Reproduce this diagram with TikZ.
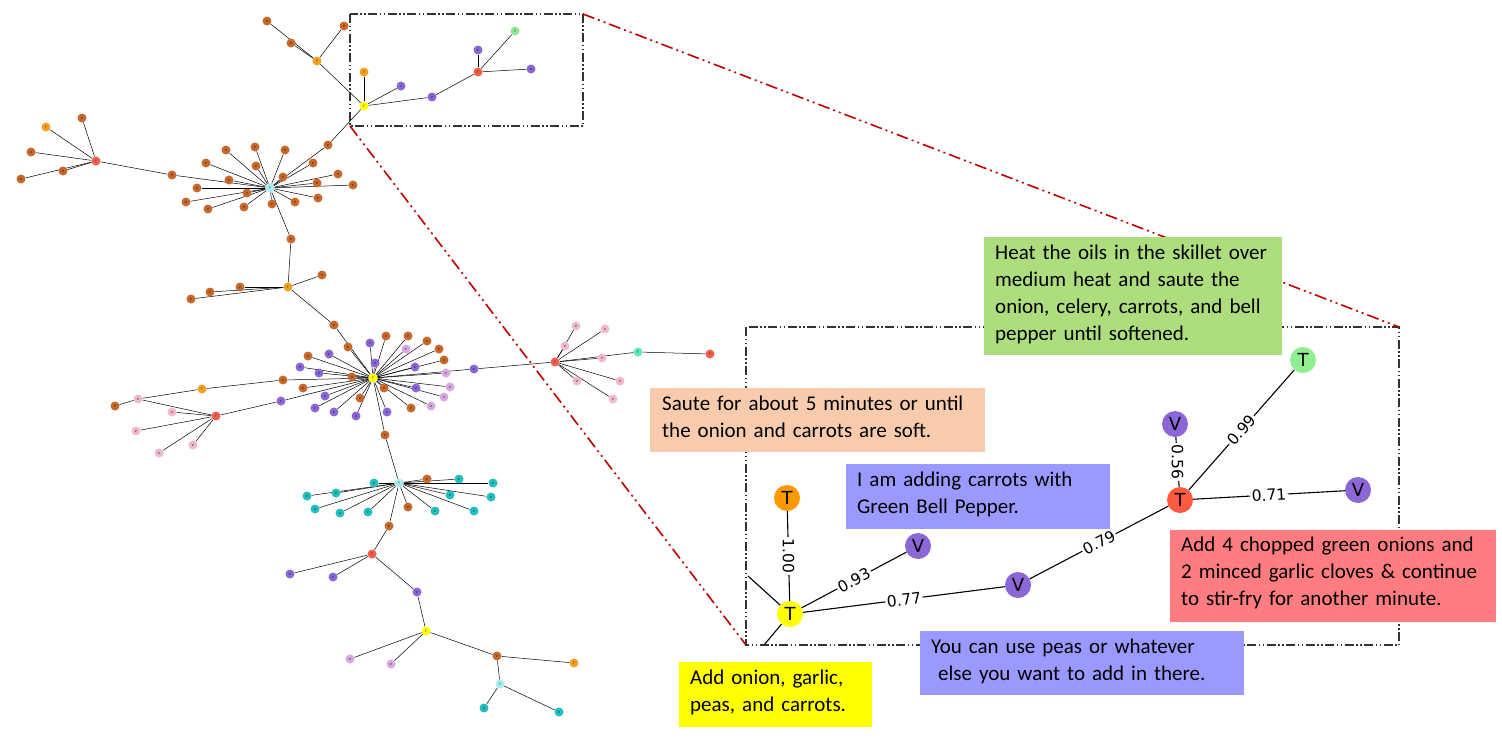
\documentclass[tikz,border=0pt]{standalone}
\usepackage{fontspec}
\setmainfont{Carlito}
\newfontfamily\dvs{DejaVu Sans}
\usetikzlibrary{backgrounds}
\definecolor{cOV}{HTML}{C8682A}
\definecolor{cPV}{HTML}{8B66D6}
\definecolor{cKV}{HTML}{F2B8D0}
\definecolor{cLK}{HTML}{D8A8E0}
\definecolor{cCY}{HTML}{20C0C0}
\definecolor{cLC}{HTML}{A8ECEC}
\definecolor{cYT}{HTML}{FFFF00}
\definecolor{cOT}{HTML}{F5A020}
\definecolor{cRT}{HTML}{F0604A}
\definecolor{cGT}{HTML}{90E890}
\definecolor{cTG}{HTML}{60E8C0}
\definecolor{bGreen}{HTML}{AEDD7E}
\definecolor{bPeach}{HTML}{F8CBAD}
\definecolor{bBlue}{HTML}{9999FF}
\definecolor{bRed}{HTML}{FF7C80}
\definecolor{dRed}{HTML}{C00000}
\definecolor{bPur}{HTML}{8B66D6}
\definecolor{bOra}{HTML}{FF9900}
\definecolor{bRT}{HTML}{FF5A40}
\definecolor{bGT}{HTML}{90EE90}
\tikzset{
 sn/.style={circle,inner sep=0pt,minimum size=9pt,font=\dvs\fontsize{3}{3}\selectfont},
 bn/.style={circle,inner sep=0pt,minimum size=26pt,font=\dvs\fontsize{18}{18}\selectfont},
 tbox/.style={align=left,anchor=north west,inner sep=0pt,text width=#1,font=\fontsize{21}{27}\selectfont},
 boxln/.style={black!80,line width=1.2pt,dash pattern=on 9pt off 2.5pt on 1.5pt off 2.5pt on 1.5pt off 2.5pt},
 redln/.style={dRed,line width=1.6pt,dash pattern=on 12pt off 4pt on 2pt off 4pt on 2pt off 4pt},
 el/.style={midway,fill=white,inner sep=1.5pt,font=\dvs\fontsize{15.5}{15.5}\selectfont},
 edge/.style={black,line width=0.5pt},
 bedge/.style={black,line width=1.1pt}
}
\begin{document}
\begin{tikzpicture}[x=1pt,y=-1pt]
\useasboundingbox (0,0) rectangle (1502,742);
% ---------- small graph nodes ----------
\foreach \n/\x/\y/\c/\l in {
 tA/317/61/cOT/T, a1/267/21/cOV/V, a2/344/26/cOV/V, a3/291/43/cOV/V,
 tY/364/106/cYT/T, b1/364/72/cOT/T, b2/401/86/cPV/V, b3/432/97/cPV/V,
 tR/478/72/cRT/T, b4/515/31/cGT/T, b5/478/50/cPV/V, b6/531/69/cPV/V,
 c0/328/145/cOV/V, tC/270/188/cLC/T,
 c1/226/150/cOV/V, c2/255/147/cOV/V, c3/285/150/cOV/V, c4/206/163/cOV/V, c5/256/166/cOV/V,
 c6/313/163/cOV/V, c7/283/177/cOV/V, c8/229/180/cOV/V, c9/338/174/cOV/V, c10/317/183/cOV/V,
 c11/353/185/cOV/V, c12/197/188/cOV/V, c13/247/193/cOV/V, c14/186/202/cOV/V, c15/208/209/cOV/V,
 c16/244/207/cOV/V, c17/272/204/cOV/V, c18/295/202/cOV/V, c19/318/198/cOV/V,
 tRL/96/161/cRT/T, d1/46/127/cOT/T, d2/82/118/cOV/V, d3/31/152/cOV/V, d4/63/171/cOV/V, d5/21/179/cOV/V,
 d0/172/175/cOV/V,
 e0/291/239/cOV/V, tO2/288/287/cOT/T, e1/322/275/cOV/V, e2/240/287/cOV/V, e3/210/292/cOV/V, e4/191/299/cOV/V,
 f1/334/325/cOV/V, f2/348/347/cOV/V, tM/373/378/cYT/T,
 p1/370/343/cPV/V, p2/329/354/cPV/V, p3/300/367/cPV/V, p4/319/373/cPV/V, p5/375/363/cPV/V,
 p6/415/367/cPV/V, p7/416/388/cPV/V, p8/325/396/cPV/V, p9/315/408/cPV/V, p10/334/412/cPV/V,
 p11/356/416/cPV/V, p12/387/412/cPV/V,
 o1/386/336/cOV/V, o2/408/336/cOV/V, o3/427/341/cOV/V, o4/439/349/cOV/V, o5/444/360/cOV/V,
 o6/308/356/cOV/V, o7/352/377/cOV/V, o8/303/388/cOV/V, o9/384/388/cOV/V, o10/360/398/cOV/V, o11/411/408/cOV/V,
 k1/406/349/cLK/V, k2/446/373/cLK/V, k3/450/387/cLK/V, k4/444/397/cLK/V, k5/431/406/cLK/V,
 g1/474/369/cPV/V, tR2/555/362/cRT/T,
 r1/576/326/cKV/V, r2/605/329/cKV/V, r3/565/346/cKV/V, r4/602/358/cKV/V, r5/620/381/cKV/V, r6/577/381/cKV/V, r7/613/399/cKV/V,
 h1/638/352/cTG/T, h2/710/354/cRT/T,
 i1/283/380/cOV/V, tO3/202/389/cOT/T, i2/138/399/cKV/V, i3/115/406/cOV/V, tR3/216/416/cRT/T, i4/281/401/cPV/V,
 i5/172/412/cKV/V, i6/136/431/cKV/V, i7/159/453/cKV/V, i8/193/445/cKV/V,
 j0/385/435/cOV/V, tC2/399/483/cLC/T,
 s1/374/483/cCY/V, s2/336/493/cCY/V, s3/307/496/cCY/V, s4/315/509/cCY/V, s5/340/513/cCY/V, s6/368/512/cCY/V,
 s7/459/479/cCY/V, s8/493/483/cCY/V, s9/450/495/cCY/V, s10/491/497/cCY/V, s11/435/511/cCY/V, s12/474/511/cCY/V,
 j1/427/479/cOV/V, j2/408/507/cOV/V, j3/389/526/cOV/V, tR4/372/554/cRT/T,
 m1/290/574/cPV/V, m2/333/577/cPV/V, m3/417/592/cPV/V, tY3/426/631/cYT/T,
 m4/350/659/cLK/V, m5/391/664/cLK/V, m6/497/656/cOV/V, m7/574/663/cOT/T, tC3/500/684/cLC/T,
 m8/484/708/cCY/V, m9/559/712/cCY/V}
 \node[sn,fill=\c] (\n) at (\x,\y) {\l};
\begin{scope}[on background layer]
\foreach \a/\b in {tA/a1,tA/a2,tA/a3,tA/tY,tY/b1,tY/b2,tY/b3,b3/tR,tR/b4,tR/b5,tR/b6,tY/c0,c0/tC,
 tC/d0,d0/tRL,tRL/d1,tRL/d2,tRL/d3,tRL/d4,tRL/d5,tC/e0,e0/tO2,tO2/e1,tO2/e2,tO2/e3,tO2/e4,
 tO2/f1,f1/tM,f2/tM,tM/g1,g1/tR2,tR2/r1,tR2/r2,tR2/r3,tR2/r4,tR2/r5,tR2/r6,tR2/r7,tR2/h1,h1/h2,
 tM/i1,i1/tO3,tO3/i2,i2/i3,i2/tR3,tR3/i4,i4/tM,tR3/i5,tR3/i6,tR3/i7,tR3/i8,
 tM/j0,j0/tC2,tC2/j1,tC2/j2,tC2/j3,j3/tR4,tR4/m1,tR4/m2,tR4/m3,m3/tY3,tY3/m4,tY3/m5,tY3/m6,m6/m7,m6/tC3,tC3/m8,tC3/m9}
 \draw[edge] (\a) -- (\b);
\foreach \i in {1,...,19} \draw[edge] (tC) -- (c\i);
\foreach \i in {1,...,12} \draw[edge] (tM) -- (p\i);
\foreach \i in {1,...,11} \draw[edge] (tM) -- (o\i);
\foreach \i in {1,...,5} \draw[edge] (tM) -- (k\i);
\foreach \i in {1,...,12} \draw[edge] (tC2) -- (s\i);
\end{scope}
% ---------- boxes and zoom lines ----------
\coordinate (sTL) at (350,14); \coordinate (sTR) at (583,14);
\coordinate (sBL) at (350,126); \coordinate (sBR) at (583,126);
\coordinate (lTL) at (746,327); \coordinate (lTR) at (1399,327);
\coordinate (lBL) at (746,645); \coordinate (lBR) at (1399,645);
\draw[boxln] (sTL) rectangle (sBR);
\draw[boxln] (lTL) rectangle (lBR);
\draw[redln] (sTR) -- (lTR);
\draw[redln] (sBL) -- (lBL);
% ---------- zoomed graph ----------
\node[bn,fill=cYT] (BY) at (790,614) {T};
\node[bn,fill=bOra] (BO) at (787,498) {T};
\node[bn,fill=bPur] (BV1) at (918,546) {V};
\node[bn,fill=bPur] (BV2) at (1018,585) {V};
\node[bn,fill=bRT] (BR) at (1180,500) {T};
\node[bn,fill=bPur] (BV3) at (1175,424) {V};
\node[bn,fill=bGT] (BG) at (1303,360) {T};
\node[bn,fill=bPur] (BV4) at (1358,490) {V};
\coordinate (fe1) at (748,576);
\coordinate (fe2) at (764,645);
\begin{scope}[on background layer]
\draw[bedge] (BY) -- (fe1);
\draw[bedge] (BY) -- (fe2);
\draw[bedge] (BO) -- node[el,rotate=-90] {1.00} (BY);
\draw[bedge] (BY) -- node[el,sloped] {0.93} (BV1);
\draw[bedge] (BY) -- node[el,sloped] {0.77} (BV2);
\draw[bedge] (BV2) -- node[el,sloped] {0.79} (BR);
\draw[bedge] (BV3) -- node[el,rotate=-90] {0.56} (BR);
\draw[bedge] (BR) -- node[el,sloped] {0.99} (BG);
\draw[bedge] (BR) -- node[el,sloped] {0.71} (BV4);
\end{scope}
% ---------- text boxes ----------
\fill[bGreen] (984,237) rectangle (1282,355);
\node[tbox=292pt] (tg) at (995,245) {Heat the oils in the skillet over\\medium heat and saute the\\onion, celery, carrots, and bell\\pepper until softened.};
\fill[bPeach] (650,388) rectangle (985,452);
\node[tbox=330pt] (tp) at (662,396) {Saute for about 5 minutes or until\\the onion and carrots are soft.};
\fill[bBlue] (846,464) rectangle (1110,529);
\node[tbox=260pt] (tb1) at (857,472) {I am adding carrots with\\Green Bell Pepper.};
\fill[bRed] (1170,530) rectangle (1496,622);
\node[tbox=325pt] (tr) at (1181,537) {Add 4 chopped green onions and\\2 minced garlic cloves \& continue\\to stir-fry for another minute.};
\fill[bBlue] (920,631) rectangle (1244,695);
\node[tbox=320pt] (tb2) at (931,639) {You can use peas or whatever\\\ else you want to add in there.};
\fill[cYT] (679,662) rectangle (872,727);
\node[tbox=190pt] (ty) at (690,670) {Add onion, garlic,\\peas, and carrots.};
\end{tikzpicture}
\end{document}
